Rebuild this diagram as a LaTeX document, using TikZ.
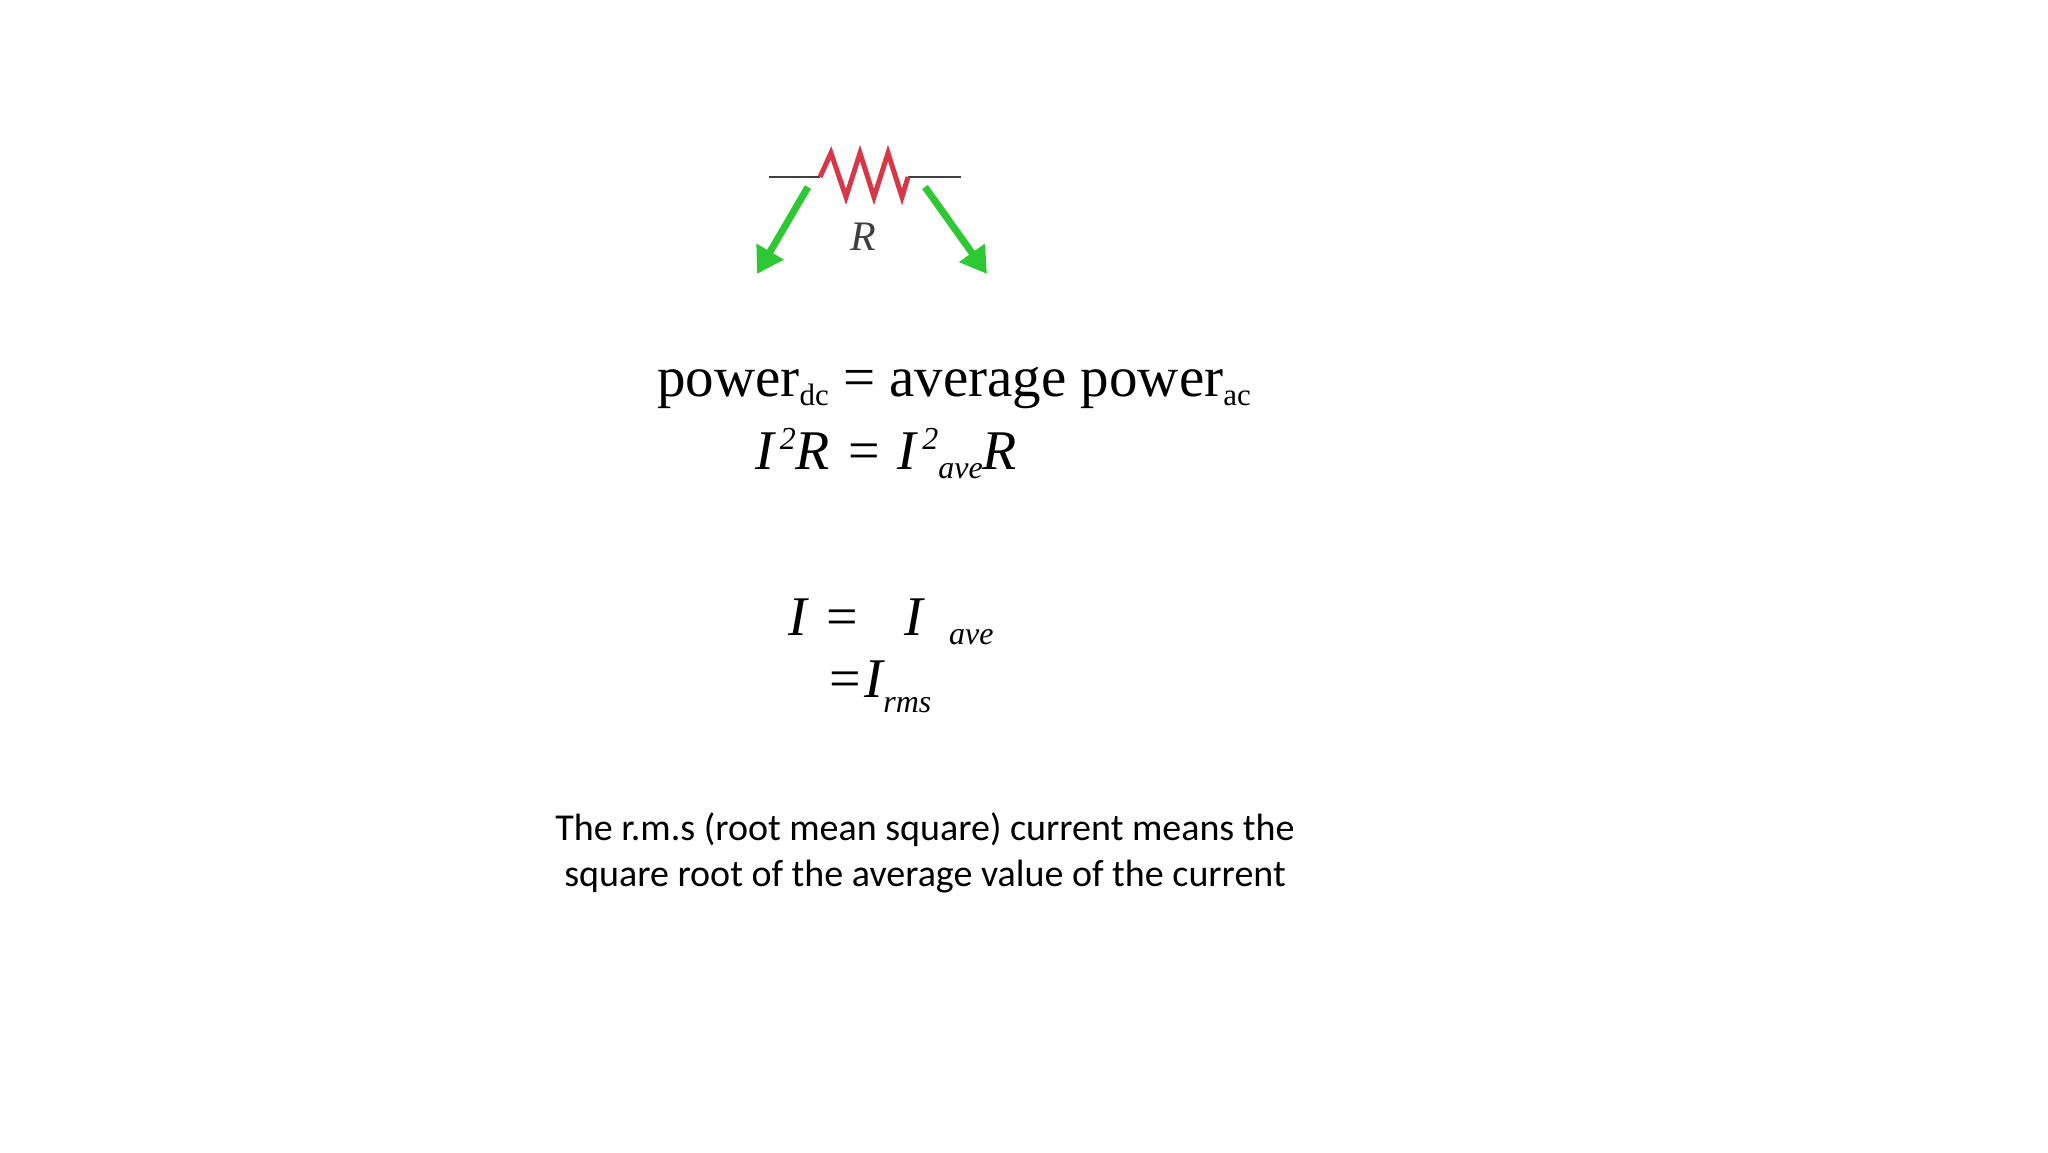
\documentclass[tikz,border=0pt]{standalone}
\usepackage{fontspec}
\setmainfont{Liberation Serif}
\newfontfamily\bodyfont{Carlito}
\usetikzlibrary{arrows.meta,positioning}
\definecolor{wirered}{RGB}{214,56,72}
\definecolor{flowgreen}{RGB}{46,200,52}
\newcommand{\sub}[1]{\raisebox{-0.35ex}{\fontsize{31}{31}\selectfont #1}}
\newcommand{\isub}[1]{\raisebox{-0.35ex}{\fontsize{32}{32}\selectfont\itshape #1}}
\newcommand{\isup}[1]{\hspace{6pt}\raisebox{0.75ex}{\fontsize{32}{32}\selectfont #1}}

\begin{document}
\begin{tikzpicture}[x=1pt, y=-1pt,
  eq/.style={anchor=base west, inner sep=0pt, font=\fontsize{57}{57}\selectfont},
  flow/.style={flowgreen, line width=7pt, -{Triangle[length=26pt, width=30pt]}}]
  \useasboundingbox (0,0) rectangle (2048,1152);
  % resistor
  \coordinate (wl) at (769,177);
  \coordinate (wr) at (961,177);
  \draw[line width=2.5pt, black!75] (wl) -- (820,177);
  \draw[line width=2.5pt, black!75] (908,177) -- (wr);
  \draw[line width=5pt, wirered, line join=miter] (820,177) -- (831,153) -- (846,197)
    -- (860,153) -- (874,197) -- (888,153) -- (902,197) -- (908,177);
  \node[inner sep=0pt, font=\fontsize{42}{42}\selectfont\itshape, text=black!75] (rlabel) at (863,237) {R};
  % current arrows
  \coordinate (al) at (808,187);
  \coordinate (ae) at (757,274);
  \coordinate (bl) at (925,187);
  \coordinate (be) at (987,274);
  \draw[flow] (al) -- (ae);
  \draw[flow] (bl) -- (be);
  % equations
  \node[eq] (pow) at (657,396) {power\sub{dc} = average power\sub{ac}};
  \node[eq, font=\fontsize{56}{56}\selectfont\itshape] (irr) at (755,469)
    {I\isup{2}R\hspace{4pt} {\upshape =}\hspace{4pt} I\isup{2}\isub{ave}R};
  \node[eq, font=\fontsize{56}{56}\selectfont\itshape] (ieq) at (788,635)
    {I\hspace{6pt} {\upshape =}\hspace{46pt}I\hspace{26pt}\isub{ave}};
  \node[eq, font=\fontsize{56}{56}\selectfont\itshape] (irms) at (829,697)
    {{\upshape =}\hspace{4pt}I\raisebox{-0.6ex}{\fontsize{32}{32}\selectfont rms}};
  % explanation
  \node[inner sep=0pt, align=center, font=\bodyfont\fontsize{38}{46}\selectfont] (note) at (925,853)
    {The r.m.s (root mean square) current means the\\square root of the average value of the current};
\end{tikzpicture}
\end{document}
